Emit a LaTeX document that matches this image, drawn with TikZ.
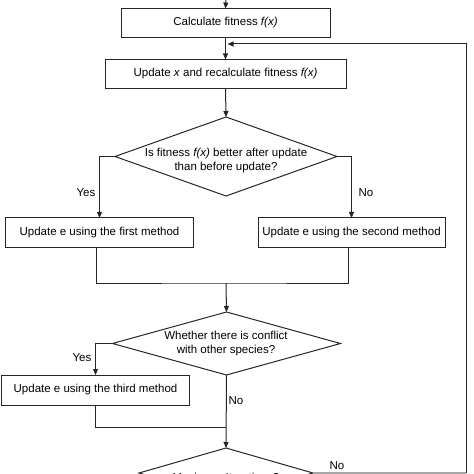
\documentclass[tikz,border=0pt]{standalone}
\usepackage{fontspec}
\setmainfont{Liberation Sans}
\usetikzlibrary{shapes.geometric,arrows.meta,calc}
\begin{document}
\begin{tikzpicture}[x=1bp,y=-1bp,
  line/.style={draw=black!85,line width=1bp},
  arr/.style={line,-{Triangle[length=6bp,width=5bp]}},
  box/.style={draw=black!85,line width=1bp,rectangle,inner sep=0pt,outer sep=0pt,minimum height=29bp,font=\fontsize{11.5bp}{13.5bp}\selectfont},
  dia/.style={draw=black!85,line width=1bp,diamond,inner sep=0pt,outer sep=0pt},
  txt/.style={inner sep=0pt,align=center,font=\fontsize{11.5bp}{13.5bp}\selectfont},
  lbl/.style={inner sep=0pt,font=\fontsize{11.5bp}{13.5bp}\selectfont}]
\useasboundingbox (0,0) rectangle (474,474);
\clip (0,0) rectangle (474,474);
% boxes
\node[box,minimum width=209bp] (b1) at (225.5,23) {Calculate fitness \textit{f(x)}};
\node[box,minimum width=241bp] (b2) at (225.5,74) {Update \textit{x} and recalculate fitness \textit{f(x)}};
\node[box,minimum width=187bp] (b3) at (99.5,232.5) {Update e using the first method};
\node[box,minimum width=187bp] (b4) at (351.5,232.5) {Update e using the second method};
\node[box,minimum width=187bp,minimum height=30bp] (b5) at (95.5,390) {Update e using the third method};
% diamonds
\node[dia,minimum width=222bp,minimum height=79bp] (d1) at (226,156.5) {};
\node[txt] (d1t) at (226,160.5) {Is fitness \textit{f(x)} better after update\\than before update?};
\node[dia,minimum width=228bp,minimum height=63bp] (d2) at (226.5,343.5) {};
\node[txt] (d2t) at (226,343.5) {Whether there is conflict\\with other species?};
\node[dia,minimum width=174bp,minimum height=50bp] (d3) at (226,473) {};
\node[txt] (d3t) at (226,477) {Maximum Iterations?};
% coordinates
\coordinate (top) at (226,0);
\coordinate (join) at (226,44);
\coordinate (loopc) at (466,44);
\coordinate (loopb) at (466,473);
\coordinate (m1) at (226,283);
\coordinate (m2) at (226,427);
% connectors
\draw[arr] (top) -- (b1.north);
\draw[arr] (b1.south) -- (b2.north);
\draw[arr] (b2.south) -- (d1.north);
\draw[arr] (d1.west) -| (b3.north);
\draw[arr] (d1.east) -| (b4.north);
\draw[line] ([xshift=-3.5bp]b3.south) |- (m1) -| ([xshift=-3.5bp]b4.south);
\draw[arr] (m1) -- (d2.north);
\draw[arr] (d2.west) -| (b5.north);
\draw[line] (b5.south) |- (m2);
\draw[arr] (d2.south) -- (d3.north);
\draw[draw=black!35,line width=3bp] (d3.east) -- (loopb);
\draw[arr,shorten >=1.5bp] (loopb) -- (loopc) -- (join);
% labels
\node[lbl] (yes1) at (86,193) {Yes};
\node[lbl] (no1) at (366,193) {No};
\node[lbl] (yes2) at (82,358) {Yes};
\node[lbl] (no2) at (236,401) {No};
\node[lbl] (no3) at (337,466) {No};
\end{tikzpicture}
\end{document}
